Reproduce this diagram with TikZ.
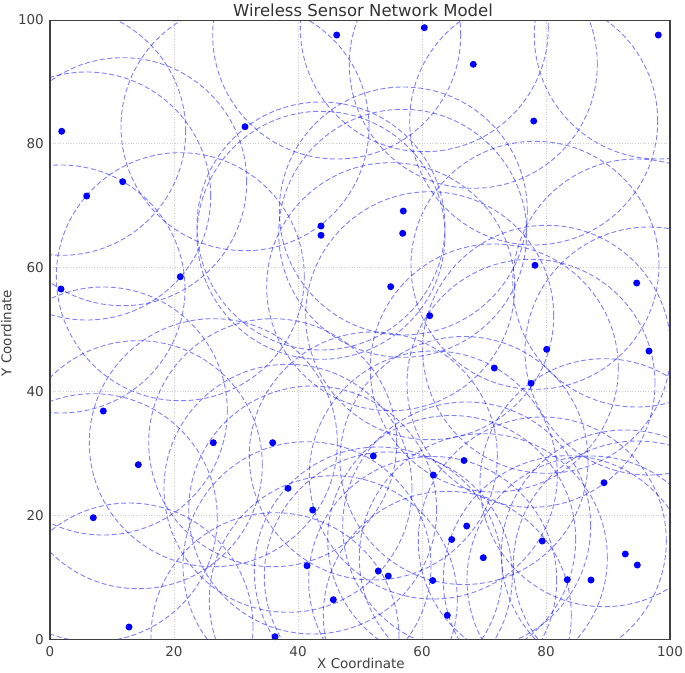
\documentclass[tikz,border=0pt]{standalone}
\usepackage{fontspec}
\setmainfont{DejaVu Sans}
\begin{document}
\begin{tikzpicture}[x=1pt,y=-1pt,
  rangec/.style={draw=blue, draw opacity=0.5, line width=0.9pt, dash pattern=on 5pt off 2.6pt},
  sensor/.style={circle, fill=blue, inner sep=0pt, minimum size=7pt},
  gridl/.style={draw=black!20, line width=0.6pt, dotted},
  frameline/.style={draw=black!75, line width=1.4pt},
  ticklab/.style={text=black!75, font=\fontsize{13.5}{15}\selectfont, inner sep=0pt},
  axlab/.style={text=black!75, font=\fontsize{13.5}{15}\selectfont, inner sep=0pt},
  titlelab/.style={text=black!80, font=\fontsize{16.5}{18}\selectfont, inner sep=0pt}
]
\useasboundingbox (0,0) rectangle (685,672);
% grid
\foreach \v in {20,40,60,80} {
  \draw[gridl] ({50+6.2*\v},20.5) -- ({50+6.2*\v},639.5);
  \draw[gridl] (50,{639.5-6.2*\v}) -- (670,{639.5-6.2*\v});
}
% sensor positions
\foreach \px/\py [count=\n] in {
 336.7/35, 424.3/27.7, 473.3/64.3, 658.3/35, 61.7/131.3,
 245/126.7, 533.7/121, 86.7/196, 122.7/181.7, 321/226,
 321/235.3, 403.3/211, 402.7/233.3, 180.3/276.7, 61/289,
 390.7/286.7, 535/265.3, 636.7/283, 429.7/315.7, 546.7/349.3,
 649/351, 494.3/368, 531/383.3, 103.3/411, 213.3/442.7,
 272.7/442.7, 138.3/464.7, 373.3/456, 464/460.5, 433.3/475,
 288/488.3, 604/482.7, 93.3/517.7, 312.7/510, 466.7/526,
 451.7/539.5, 542.3/541, 483.3/557.7, 625.3/554, 637.3/565,
 307/565.7, 378.3/571, 388.3/576, 567.3/579.7, 591/580,
 432.7/580.5, 333.3/599.7, 447.3/615.3, 129/627, 275/636.7}
 { \coordinate (c\n) at (\px,\py); }
% ranges
\begin{scope}
\clip (50,20.5) rectangle (670,639.5);
\foreach \n in {1,...,50} { \draw[rangec] (c\n) circle[radius=124pt]; }
\end{scope}
% sensors
\foreach \n in {1,...,50} { \node[sensor] (s\n) at (c\n) {}; }
% frame
\draw[frameline] (50,20.5) rectangle (670,639.5);
% ticks
\foreach \v in {0,20,40,60,80,100} {
  \node[ticklab, anchor=north] (xt\v) at ({50+6.2*\v},646) {\v};
  \node[ticklab, anchor=east] (yt\v) at (44,{639.5-6.2*\v}) {\v};
}
\node[axlab, anchor=base] (xlab) at (361,668) {X Coordinate};
\node[axlab, rotate=90, anchor=north] (ylab) at (1,333) {Y Coordinate};
\node[titlelab, anchor=south] (title) at (363,17) {Wireless Sensor Network Model};
\end{tikzpicture}
\end{document}
